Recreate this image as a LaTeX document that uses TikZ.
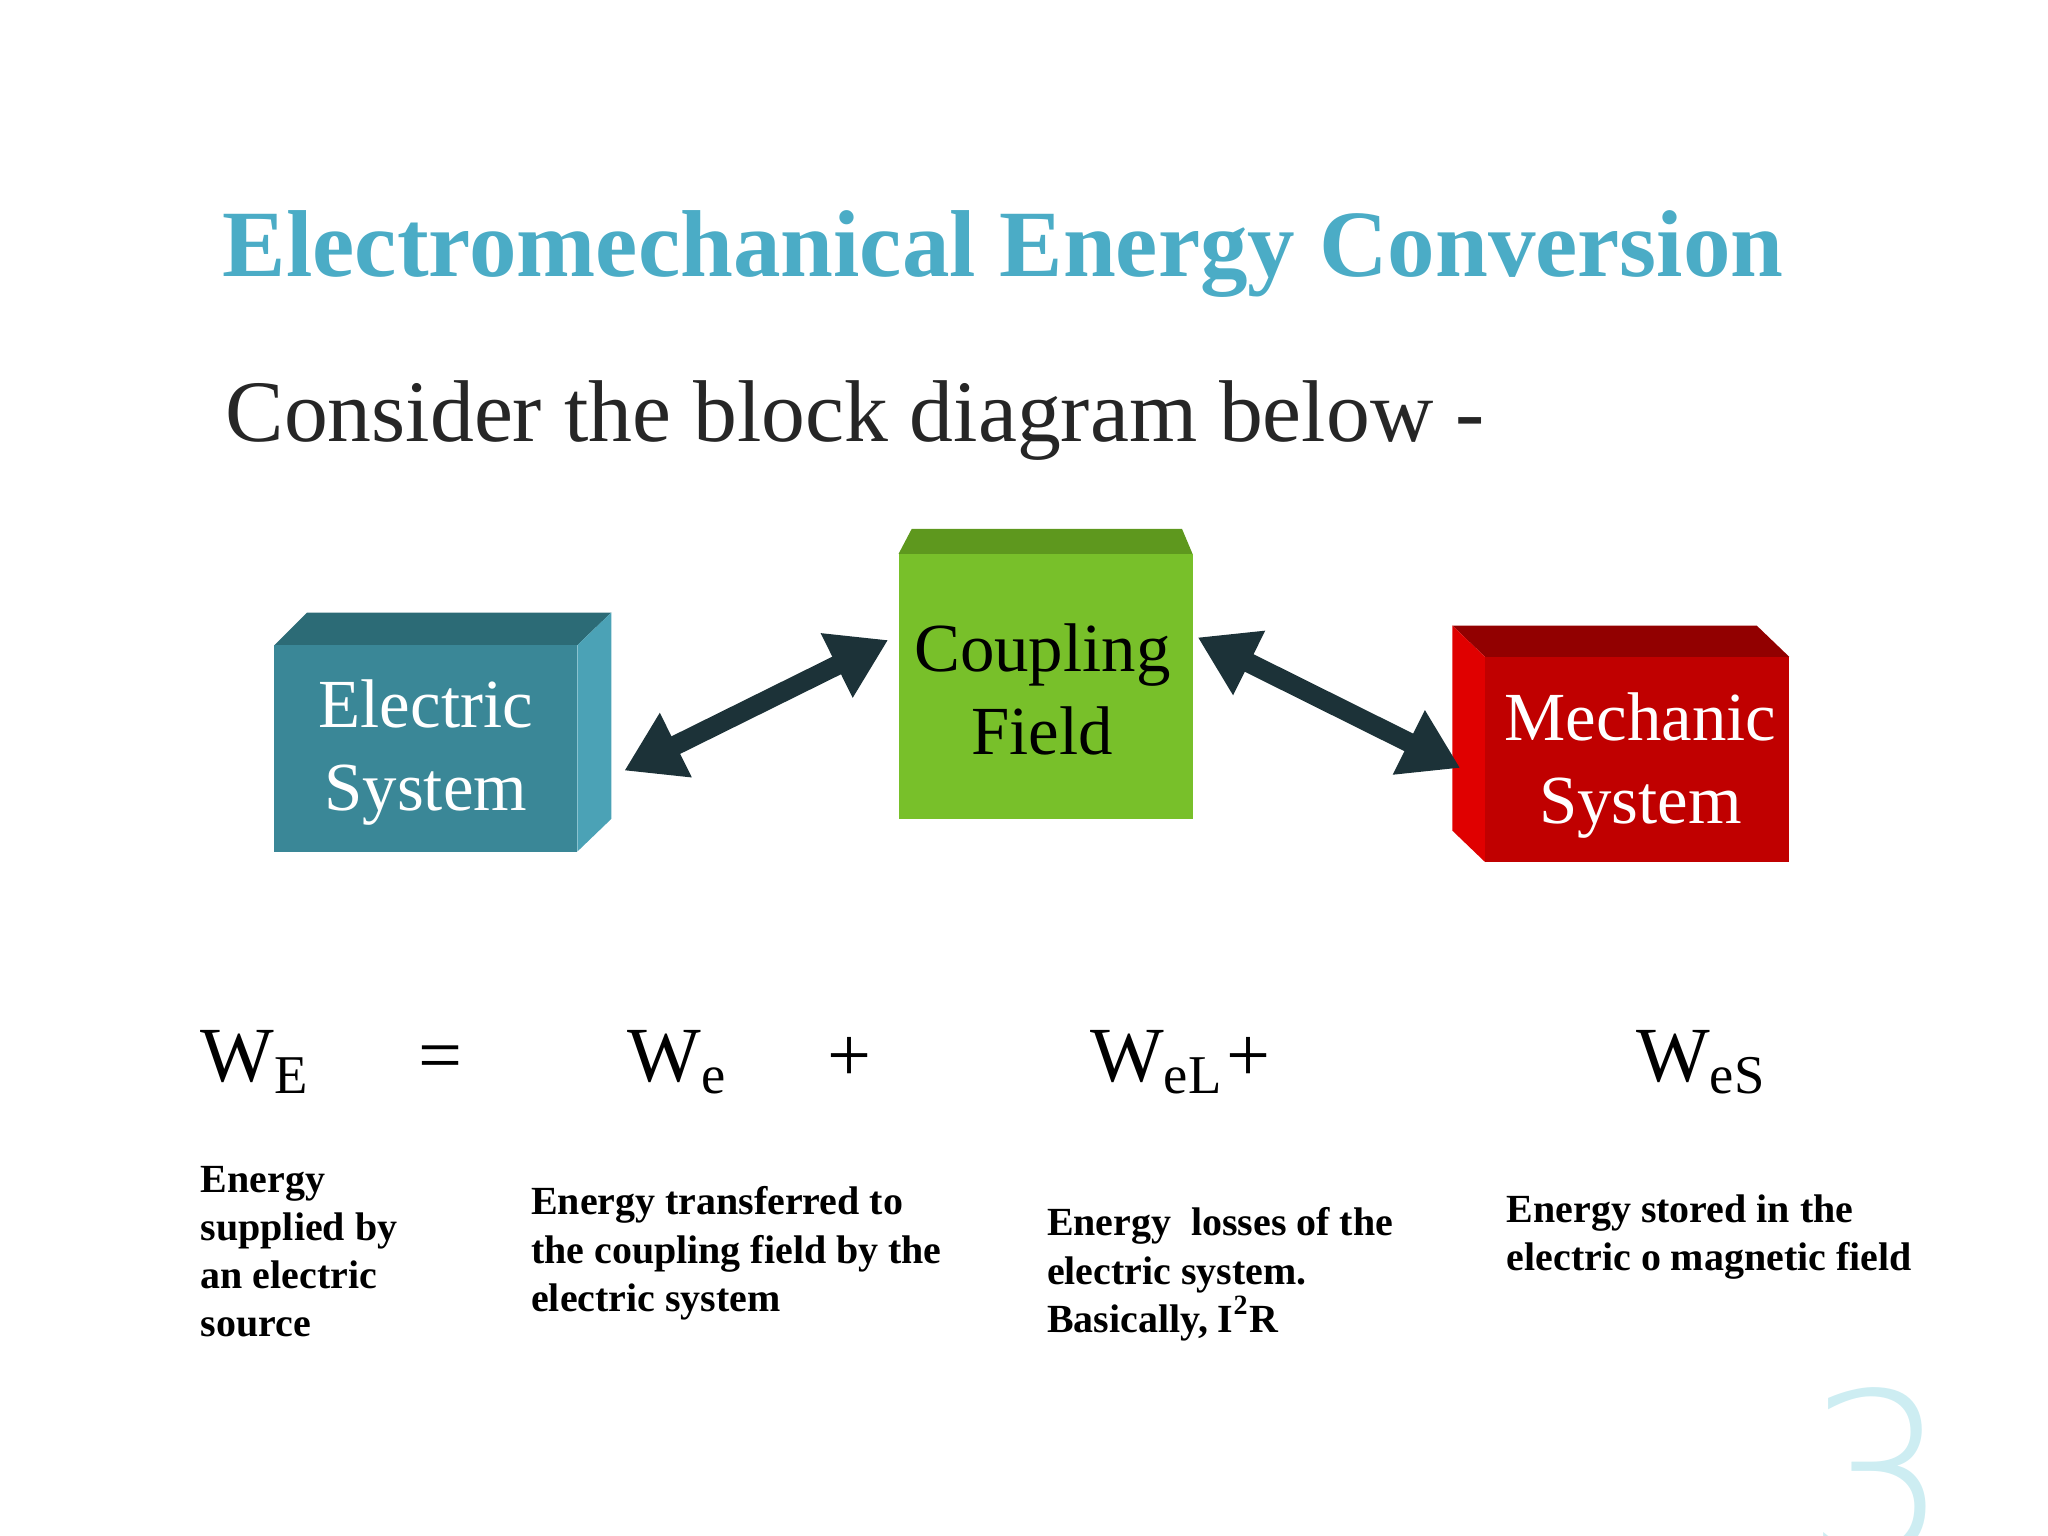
\documentclass[tikz,border=0pt]{standalone}
\usepackage{fontspec}
\setmainfont{Liberation Serif}
\newfontfamily\numfont{DejaVu Sans ExtraLight}
\usetikzlibrary{arrows.meta}
\definecolor{titlec}{HTML}{4BACC6}
\definecolor{txt}{HTML}{262626}
\definecolor{tealF}{HTML}{3A8797}
\definecolor{tealT}{HTML}{2C6B76}
\definecolor{tealS}{HTML}{4BA2B6}
\definecolor{grnF}{HTML}{78C02A}
\definecolor{grnT}{HTML}{5E981E}
\definecolor{redF}{HTML}{C00000}
\definecolor{redT}{HTML}{920000}
\definecolor{redS}{HTML}{E00000}
\definecolor{arr}{HTML}{1C3238}
\definecolor{pg}{HTML}{CDEDF2}
\tikzset{
 face/.style={inner sep=0pt, align=center, font=\fontsize{15}{18}\selectfont},
 eq/.style={anchor=base west, inner sep=0pt, font=\fontsize{17}{20}\selectfont, text=black},
 desc/.style={anchor=north west, inner sep=0pt, align=left, font=\bfseries\fontsize{8.7}{10.5}\selectfont, text=black},
 dbl/.style={arr, line width=1.5mm, {Triangle[length=4.4mm,width=5.2mm]}-{Triangle[length=4.4mm,width=5.2mm]}}
}
\begin{document}
\begin{tikzpicture}[x=1mm,y=-1mm]
\useasboundingbox (0,0) rectangle (156.8,117.6);
\clip (0,0) rectangle (156.8,117.6);
% title
\node[anchor=base west, inner sep=0pt, text=titlec, font=\bfseries\fontsize{20.7}{24}\selectfont] (title) at (17.0,21.2) {Electromechanical Energy Conversion};
\node[anchor=base west, inner sep=0pt, text=txt, font=\fontsize{19.1}{22}\selectfont] (sub) at (17.2,33.8) {Consider the block diagram below -};
% Electric system box
\fill[tealT] (21.0,49.4) -- (23.5,46.9) -- (46.8,46.9) -- (44.2,49.4) -- cycle;
\fill[tealS] (44.2,49.4) -- (46.8,46.9) -- (46.8,62.7) -- (44.2,65.2) -- cycle;
\fill[tealF] (21.0,49.4) rectangle (44.2,65.2);
\node[face, text=white] (elec) at (32.6,57.6) {Electric\\System};
% Coupling field
\fill[grnT] (68.8,42.4) -- (69.8,40.5) -- (90.5,40.5) -- (91.3,42.4) -- cycle;
\fill[grnF] (68.8,42.4) rectangle (91.3,62.7);
\node[face, text=black] (coup) at (79.8,52.8) {Coupling\\ Field};
% Mechanic system
\fill[redT] (111.2,47.9) -- (134.5,47.9) -- (137.0,50.3) -- (113.7,50.3) -- cycle;
\fill[redS] (111.2,47.9) -- (113.7,50.3) -- (113.7,66.0) -- (111.2,63.6) -- cycle;
\fill[redF] (113.7,50.3) rectangle (137.0,66.0);
\node[face, text=white] (mech) at (125.6,58.6) {Mechanic\\ System};
% arrows
\coordinate (a1) at (47.8,59.0);
\coordinate (a2) at (68.0,49.0);
\coordinate (b1) at (91.7,48.8);
\coordinate (b2) at (111.8,58.8);
\draw[dbl] (a1) -- (a2);
\draw[dbl] (b1) -- (b2);
% equation
\node[eq] (WE) at (15.3,82.8) {W\textsubscript{E}};
\node[eq] (eq1) at (32.0,82.8) {=};
\node[eq] (We) at (48.0,82.8) {W\textsubscript{e}};
\node[eq] (p1) at (63.3,82.8) {+};
\node[eq] (WeL) at (83.4,82.8) {W\textsubscript{eL}};
\node[eq] (p2) at (93.8,82.8) {+};
\node[eq] (WeS) at (125.2,82.8) {W\textsubscript{eS}};
% descriptions
\node[desc] (d1) at (15.3,89.2) {Energy\\supplied by\\an electric\\source};
\node[desc] (d2) at (40.6,90.8) {Energy transferred to\\the coupling field by the\\electric system};
\node[desc] (d3) at (80.1,92.4) {Energy\ \ losses of the\\electric system.\\Basically, I\textsuperscript{2}R};
\node[desc] (d4) at (115.3,91.4) {Energy stored in the\\electric o magnetic field};
% page number
\node[anchor=base west, inner sep=0pt, text=pg, font=\numfont\fontsize{49}{49}\selectfont] (pgn) at (138.2,119.0) {3};
\end{tikzpicture}
\end{document}
